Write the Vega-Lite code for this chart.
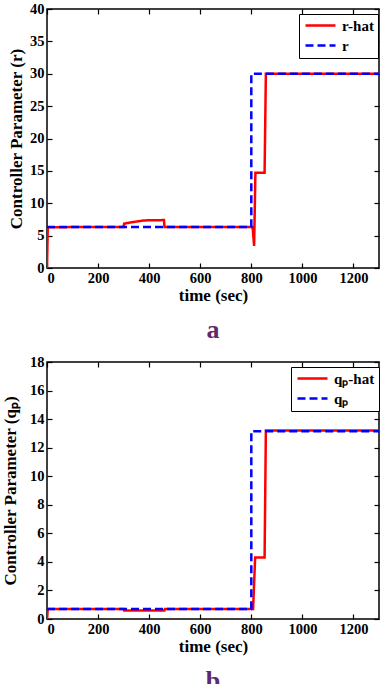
{
  "$schema": "https://vega.github.io/schema/vega-lite/v6.json",
  "padding": {"left": 0, "top": 0, "right": 1, "bottom": 0},
  "spacing": 94,
  "bounds": "flush",
  "resolve": {"scale": {"color": "independent", "strokeDash": "independent"}},
  "datasets": {
    "top": [
      {"i": 0, "s": "r-hat", "t": 0, "v": 0},
      {"i": 1, "s": "r-hat", "t": 3, "v": 6.3},
      {"i": 2, "s": "r-hat", "t": 300, "v": 6.35},
      {"i": 3, "s": "r-hat", "t": 302, "v": 6.85},
      {"i": 4, "s": "r-hat", "t": 330, "v": 7.05},
      {"i": 5, "s": "r-hat", "t": 380, "v": 7.35},
      {"i": 6, "s": "r-hat", "t": 458, "v": 7.4},
      {"i": 7, "s": "r-hat", "t": 460, "v": 6.35},
      {"i": 8, "s": "r-hat", "t": 805, "v": 6.35},
      {"i": 9, "s": "r-hat", "t": 811, "v": 3.4},
      {"i": 10, "s": "r-hat", "t": 816, "v": 14.7},
      {"i": 11, "s": "r-hat", "t": 852, "v": 14.7},
      {"i": 12, "s": "r-hat", "t": 857, "v": 30},
      {"i": 13, "s": "r-hat", "t": 1300, "v": 30},
      {"i": 0, "s": "r", "t": 0, "v": 6.35},
      {"i": 1, "s": "r", "t": 800, "v": 6.35},
      {"i": 2, "s": "r", "t": 800, "v": 30},
      {"i": 3, "s": "r", "t": 1300, "v": 30}
    ],
    "bot": [
      {"i": 0, "s": "qₚ-hat", "t": 0, "v": 0},
      {"i": 1, "s": "qₚ-hat", "t": 3, "v": 0.7},
      {"i": 2, "s": "qₚ-hat", "t": 300, "v": 0.7},
      {"i": 3, "s": "qₚ-hat", "t": 302, "v": 0.6},
      {"i": 4, "s": "qₚ-hat", "t": 460, "v": 0.6},
      {"i": 5, "s": "qₚ-hat", "t": 462, "v": 0.7},
      {"i": 6, "s": "qₚ-hat", "t": 807, "v": 0.7},
      {"i": 7, "s": "qₚ-hat", "t": 815, "v": 4.3},
      {"i": 8, "s": "qₚ-hat", "t": 852, "v": 4.3},
      {"i": 9, "s": "qₚ-hat", "t": 857, "v": 13.2},
      {"i": 10, "s": "qₚ-hat", "t": 1300, "v": 13.2},
      {"i": 0, "s": "qₚ", "t": 0, "v": 0.7},
      {"i": 1, "s": "qₚ", "t": 800, "v": 0.7},
      {"i": 2, "s": "qₚ", "t": 800, "v": 13.15},
      {"i": 3, "s": "qₚ", "t": 1300, "v": 13.15}
    ]
  },
  "vconcat": [
    {
      "width": 332,
      "height": 259,
      "data": {"name": "top"},
      "title": {"text": "a", "orient": "bottom", "offset": 13, "fontSize": 26, "font": "Liberation Serif", "fontWeight": "bold", "color": "#5e2a6e", "anchor": "middle"},
      "layer": [
        {
          "transform": [{"filter": "datum.s == 'r-hat'"}],
          "mark": {"type": "line", "strokeWidth": 2.5, "clip": true},
          "encoding": {
            "x": {"field": "t", "type": "quantitative", "scale": {"domain": [0, 1300], "nice": false}, "axis": {"title": "time (sec)", "format": "d", "values": [0, 200, 400, 600, 800, 1000, 1200]}},
            "y": {"field": "v", "type": "quantitative", "scale": {"domain": [0, 40], "nice": false}, "axis": {"title": "Controller Parameter (r)", "values": [0, 5, 10, 15, 20, 25, 30, 35, 40], "titleX": -31, "titleBaseline": "middle"}},
            "order": {"field": "i", "type": "quantitative"},
            "color": {"field": "s", "type": "nominal", "scale": {"domain": ["r-hat", "r"], "range": ["#ff0000", "#0000ff"]}, "legend": {"title": null, "orient": "none", "legendX": 252, "legendY": 5}},
            "strokeDash": {"field": "s", "type": "nominal", "scale": {"domain": ["r-hat", "r"], "range": [[1, 0], [8, 4]]}, "legend": {"title": null, "orient": "none", "legendX": 252, "legendY": 5}}
          }
        },
        {
          "transform": [{"filter": "datum.s == 'r'"}],
          "mark": {"type": "line", "strokeWidth": 2.5, "clip": true},
          "encoding": {
            "x": {"field": "t", "type": "quantitative", "axis": {"orient": "top", "labels": false, "title": null, "values": [0, 200, 400, 600, 800, 1000, 1200]}},
            "y": {"field": "v", "type": "quantitative", "axis": {"orient": "right", "labels": false, "title": null, "values": [0, 5, 10, 15, 20, 25, 30, 35, 40]}},
            "order": {"field": "i", "type": "quantitative"},
            "color": {"field": "s", "type": "nominal"},
            "strokeDash": {"field": "s", "type": "nominal"}
          }
        }
      ],
      "resolve": {"axis": {"x": "independent", "y": "independent"}}
    },
    {
      "width": 332,
      "height": 257,
      "data": {"name": "bot"},
      "title": {"text": "b", "orient": "bottom", "offset": 13, "fontSize": 26, "font": "Liberation Serif", "fontWeight": "bold", "color": "#5e2a6e", "anchor": "middle"},
      "layer": [
        {
          "transform": [{"filter": "datum.s == 'qₚ-hat'"}],
          "mark": {"type": "line", "strokeWidth": 2.5, "clip": true},
          "encoding": {
            "x": {"field": "t", "type": "quantitative", "scale": {"domain": [0, 1300], "nice": false}, "axis": {"title": "time (sec)", "format": "d", "values": [0, 200, 400, 600, 800, 1000, 1200]}},
            "y": {"field": "v", "type": "quantitative", "scale": {"domain": [0, 18], "nice": false}, "axis": {"title": "Controller Parameter (qₚ)", "values": [0, 2, 4, 6, 8, 10, 12, 14, 16, 18], "titleX": -37, "titleBaseline": "middle"}},
            "order": {"field": "i", "type": "quantitative"},
            "color": {"field": "s", "type": "nominal", "scale": {"domain": ["qₚ-hat", "qₚ"], "range": ["#ff0000", "#0000ff"]}, "legend": {"title": null, "orient": "none", "legendX": 244, "legendY": 5}},
            "strokeDash": {"field": "s", "type": "nominal", "scale": {"domain": ["qₚ-hat", "qₚ"], "range": [[1, 0], [8, 4]]}, "legend": {"title": null, "orient": "none", "legendX": 244, "legendY": 5}}
          }
        },
        {
          "transform": [{"filter": "datum.s == 'qₚ'"}],
          "mark": {"type": "line", "strokeWidth": 2.5, "clip": true},
          "encoding": {
            "x": {"field": "t", "type": "quantitative", "axis": {"orient": "top", "labels": false, "title": null, "values": [0, 200, 400, 600, 800, 1000, 1200]}},
            "y": {"field": "v", "type": "quantitative", "axis": {"orient": "right", "labels": false, "title": null, "values": [0, 2, 4, 6, 8, 10, 12, 14, 16, 18]}},
            "order": {"field": "i", "type": "quantitative"},
            "color": {"field": "s", "type": "nominal"},
            "strokeDash": {"field": "s", "type": "nominal"}
          }
        }
      ],
      "resolve": {"axis": {"x": "independent", "y": "independent"}}
    }
  ],
  "config": {
    "background": "white",
    "font": "Liberation Serif",
    "view": {"stroke": "black", "strokeWidth": 1.5},
    "axis": {
      "grid": false,
      "domain": false,
      "tickColor": "black",
      "tickSize": -5,
      "tickWidth": 1.2,
      "labelFont": "Liberation Serif",
      "labelFontWeight": "bold",
      "labelFontSize": 14.5,
      "labelColor": "black",
      "labelPadding": 8,
      "titleFont": "Liberation Serif",
      "titleFontWeight": "bold",
      "titleFontSize": 17,
      "titleColor": "black",
      "titlePadding": 3
    },
    "legend": {
      "strokeColor": "black",
      "fillColor": "white",
      "padding": 4,
      "cornerRadius": 0,
      "symbolType": "M-1,0H5",
      "symbolSize": 100,
      "symbolStrokeWidth": 2.5,
      "labelFont": "Liberation Serif",
      "labelFontWeight": "bold",
      "labelFontSize": 15,
      "labelColor": "black",
      "labelOffset": 24,
      "rowPadding": 4
    }
  }
}
